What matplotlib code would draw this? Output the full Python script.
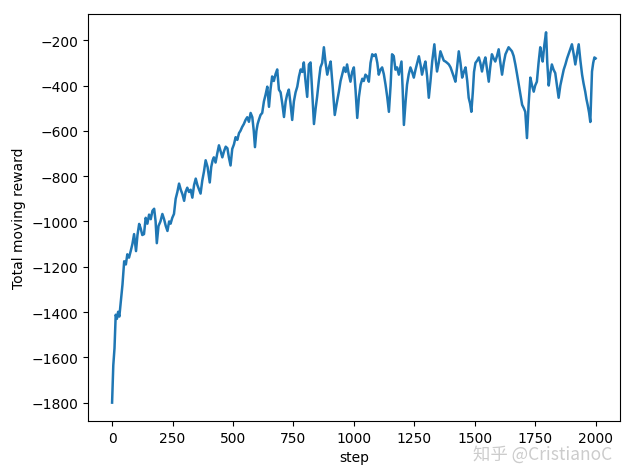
import matplotlib as mpl
mpl.use('Agg')
import matplotlib.pyplot as plt

# values (step, total moving reward)
steps = [0, 5, 10, 15, 20, 25, 30, 36, 43, 50, 57, 63, 70, 77, 84, 91, 99, 105,
         112, 118, 125, 132, 139, 146, 153, 160, 167, 174, 180, 185, 192, 200,
         208, 215, 222, 229, 236, 242, 249, 256, 263, 270, 277, 284, 291, 298,
         304, 311, 318, 325, 332, 339, 346, 353, 360, 366, 373, 380, 387, 395,
         404, 410, 416, 421, 428, 435, 442, 449, 456, 463, 470, 477, 483, 490,
         497, 504, 511, 518, 525, 531, 538, 545, 552, 559, 566, 573, 580, 586,
         591, 597, 602, 607, 614, 621, 628, 635, 642, 649, 655, 662, 669, 676,
         683, 690, 697, 704, 711, 718, 724, 731, 738, 745, 752, 759, 766, 773,
         780, 787, 793, 800, 807, 814, 821, 828, 835, 842, 848, 855, 862, 869,
         876, 883, 890, 897, 904, 912, 921, 929, 938, 945, 952, 959, 966, 972,
         979, 986, 993, 1000, 1007, 1014, 1021, 1028, 1035, 1041, 1048, 1055,
         1062, 1069, 1076, 1083, 1090, 1097, 1103, 1110, 1117, 1124, 1131, 1138,
         1145, 1152, 1158, 1165, 1172, 1179, 1186, 1192, 1197, 1202, 1207, 1214,
         1220, 1227, 1234, 1241, 1248, 1255, 1262, 1269, 1276, 1282, 1289, 1296,
         1303, 1310, 1317, 1324, 1329, 1333, 1338, 1344, 1351, 1358, 1365, 1372,
         1379, 1386, 1393, 1400, 1406, 1413, 1420, 1427, 1434, 1441, 1448, 1455,
         1462, 1469, 1475, 1481, 1486, 1492, 1497, 1503, 1510, 1517, 1523, 1530,
         1537, 1544, 1551, 1558, 1564, 1571, 1578, 1585, 1592, 1599, 1606, 1613,
         1620, 1627, 1634, 1640, 1647, 1654, 1661, 1668, 1675, 1682, 1689, 1696,
         1703, 1709, 1716, 1723, 1730, 1737, 1744, 1750, 1757, 1764, 1771, 1776,
         1781, 1788, 1795, 1800, 1806, 1812, 1819, 1826, 1833, 1840, 1847, 1854,
         1861, 1868, 1875, 1882, 1888, 1895, 1902, 1909, 1916, 1923, 1930, 1937,
         1944, 1950, 1957, 1962, 1967, 1973, 1978, 1985, 1990, 1995, 2000]

rewards = [-1800, -1635, -1560, -1412, -1430, -1399, -1420, -1354, -1279, -1176,
           -1190, -1145, -1160, -1131, -1100, -1056, -1131, -1060, -1011, -1030,
           -1060, -1056, -984, -1010, -970, -990, -953, -944, -1000, -1096,
           -1020, -1000, -967, -990, -1020, -1042, -1000, -1010, -984, -967,
           -900, -870, -833, -860, -880, -909, -870, -851, -870, -860, -895,
           -840, -811, -840, -860, -877, -820, -780, -730, -760, -828, -760,
           -730, -717, -740, -700, -664, -690, -717, -690, -670, -677, -717,
           -753, -680, -660, -628, -640, -610, -600, -583, -570, -552, -540,
           -560, -521, -540, -600, -672, -600, -570, -552, -530, -521, -470,
           -440, -405, -494, -420, -360, -380, -350, -329, -418, -430, -480,
           -539, -470, -440, -418, -480, -552, -470, -430, -405, -360, -329,
           -340, -298, -380, -450, -307, -298, -430, -570, -500, -450, -380,
           -320, -300, -231, -300, -352, -320, -294, -400, -530, -480, -427,
           -380, -350, -320, -340, -307, -350, -383, -340, -320, -420, -543,
           -450, -396, -370, -380, -352, -360, -383, -300, -262, -270, -262,
           -300, -352, -330, -320, -350, -396, -450, -516, -400, -262, -270,
           -330, -320, -352, -320, -294, -420, -574, -470, -396, -350, -320,
           -340, -365, -330, -300, -271, -310, -352, -320, -294, -360, -454,
           -380, -294, -250, -218, -280, -338, -300, -249, -270, -290, -294,
           -300, -307, -320, -338, -360, -383, -320, -249, -300, -365, -340,
           -320, -380, -454, -480, -516, -430, -340, -300, -290, -276, -300,
           -338, -300, -276, -330, -383, -320, -262, -280, -294, -270, -240,
           -300, -352, -300, -262, -245, -231, -240, -249, -270, -307, -350,
           -396, -440, -485, -500, -516, -632, -480, -365, -400, -427, -400,
           -383, -300, -231, -260, -294, -220, -165, -300, -400, -350, -307,
           -330, -345, -400, -454, -400, -365, -330, -307, -280, -262, -240,
           -218, -260, -307, -260, -218, -290, -352, -390, -427, -460, -485,
           -520, -561, -338, -300, -276, -280]

fig = plt.figure(figsize=(6.37, 4.77), dpi=100)
ax = fig.add_subplot(111)
fig.subplots_adjust(left=0.138, right=0.973, bottom=0.115, top=0.969)

ax.plot(steps, rewards, color='#1f77b4', linewidth=1.8)
ax.set_xticks([0, 250, 500, 750, 1000, 1250, 1500, 1750, 2000])
ax.set_yticks(list(range(-1800, 0, 200)))
ax.set_xlabel('step')
ax.set_ylabel('Total moving reward')

# watermark
fig.text(0.742, 0.046, '知乎 @CristianoC', color='#cccccc', fontsize=12.5,
         va='center', ha='left', family=['Noto Sans CJK SC', 'DejaVu Sans'])

fig.savefig('out.png', dpi=100)
